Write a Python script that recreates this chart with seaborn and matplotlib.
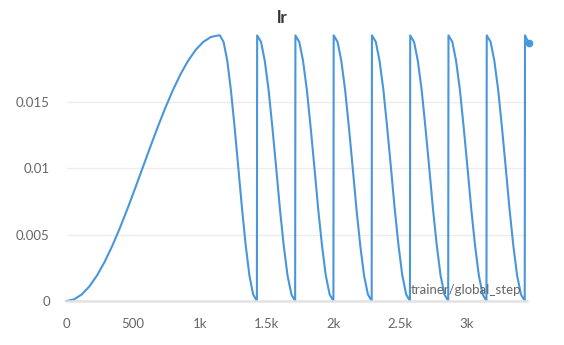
import matplotlib
matplotlib.use("Agg")
import matplotlib.pyplot as plt
import seaborn as sns
import pandas as pd

# ---- data ----
warmup_steps = [0, 57, 114, 171, 228, 285, 342, 399, 456, 513, 570, 627, 684,
                741, 798, 855, 912, 969, 1026, 1083, 1140]
warmup_lr = [0.0, 0.000123, 0.000489, 0.00109, 0.00191, 0.002929, 0.004122,
             0.00546, 0.00691, 0.008436, 0.01, 0.011564, 0.01309, 0.01454,
             0.015878, 0.017071, 0.01809, 0.01891, 0.019511, 0.019877, 0.02]

decay0_steps = [1150, 1178, 1206, 1233, 1261, 1289, 1317, 1345, 1372, 1400, 1428]
decay0_lr = [0.02, 0.01951, 0.01809, 0.01588, 0.01309, 0.01, 0.00691, 0.00412,
             0.00191, 0.00049, 0.0]

cycle1_steps = [1430, 1459, 1487, 1516, 1544, 1573, 1601, 1630, 1658, 1687, 1715]
cycle2_steps = [1717, 1746, 1774, 1803, 1831, 1860, 1888, 1917, 1945, 1974, 2002]
cycle3_steps = [2004, 2033, 2061, 2090, 2118, 2147, 2175, 2204, 2232, 2261, 2289]
cycle4_steps = [2291, 2320, 2348, 2377, 2405, 2434, 2462, 2491, 2519, 2548, 2576]
cycle5_steps = [2578, 2607, 2635, 2664, 2692, 2721, 2749, 2778, 2806, 2835, 2863]
cycle6_steps = [2865, 2894, 2922, 2951, 2979, 3008, 3036, 3065, 3093, 3122, 3150]
cycle7_steps = [3152, 3181, 3209, 3238, 3266, 3295, 3323, 3352, 3380, 3409, 3437]
cycle_lr = [0.02, 0.01951, 0.01809, 0.01588, 0.01309, 0.01, 0.00691, 0.00412,
            0.00191, 0.00049, 0.0]

tail_steps = [3439, 3468]
tail_lr = [0.02, 0.0194]

x_ticks = [0, 500, 1000, 1500, 2000, 2500, 3000]
x_tick_labels = ["0", "500", "1k", "1.5k", "2k", "2.5k", "3k"]
y_ticks = [0, 0.005, 0.01, 0.015]
y_tick_labels = ["0", "0.005", "0.01", "0.015"]

steps = (warmup_steps + decay0_steps + cycle1_steps + cycle2_steps + cycle3_steps
         + cycle4_steps + cycle5_steps + cycle6_steps + cycle7_steps + tail_steps)
lr = (warmup_lr + decay0_lr + cycle_lr * 7 + tail_lr)
df = pd.DataFrame({"trainer/global_step": steps, "lr": lr})

# ---- figure ----
sns.set_theme(style="white")
plt.rcParams["font.family"] = ["Lato", "DejaVu Sans"]

W, H = 564, 345
fig = plt.figure(figsize=(W / 100, H / 100), dpi=100)
ax = fig.add_axes([66.5 / W, 1 - 301 / H, (527 - 66.5) / W, (301 - 31.4) / H])

line_color = "#4896db"
sns.lineplot(data=df, x="trainer/global_step", y="lr", ax=ax, color=line_color,
             linewidth=1.5, estimator=None, sort=False)
for l in ax.lines:
    l.set_clip_on(False)
    l.set_solid_joinstyle("round")
ax.plot([steps[-1]], [lr[-1]], "o", color=line_color, markersize=4.5, clip_on=False)

ax.set_xlim(0, 3454)
ax.set_ylim(0, 0.0203)

ax.set_xticks(x_ticks)
ax.set_xticklabels(x_tick_labels)
ax.set_yticks(y_ticks)
ax.set_yticklabels(y_tick_labels)
ax.set_xlabel("")
ax.set_ylabel("")

for s in ["top", "right", "left"]:
    ax.spines[s].set_visible(False)
ax.spines["bottom"].set_color("#e3e3e3")
ax.spines["bottom"].set_linewidth(1.8)

ax.yaxis.grid(True, color="#ededed", linewidth=1.0)
ax.xaxis.grid(False)
ax.set_axisbelow(True)

ax.tick_params(axis="x", direction="inout", length=10, width=1.2, color="#dddddd",
               labelsize=9.5, labelcolor="#666666", pad=7)
ax.tick_params(axis="y", length=0, labelsize=9.5, labelcolor="#666666", pad=12)

fig.text(282 / W, 1 - 23 / H, "lr", ha="center", va="baseline",
         fontsize=12.5, fontweight="bold", color="#333333")
fig.text(521 / W, 1 - 294 / H, "trainer/global_step", ha="right", va="baseline",
         fontsize=9.5, color="#666666")

fig.savefig("out.png", dpi=100, facecolor="white")
